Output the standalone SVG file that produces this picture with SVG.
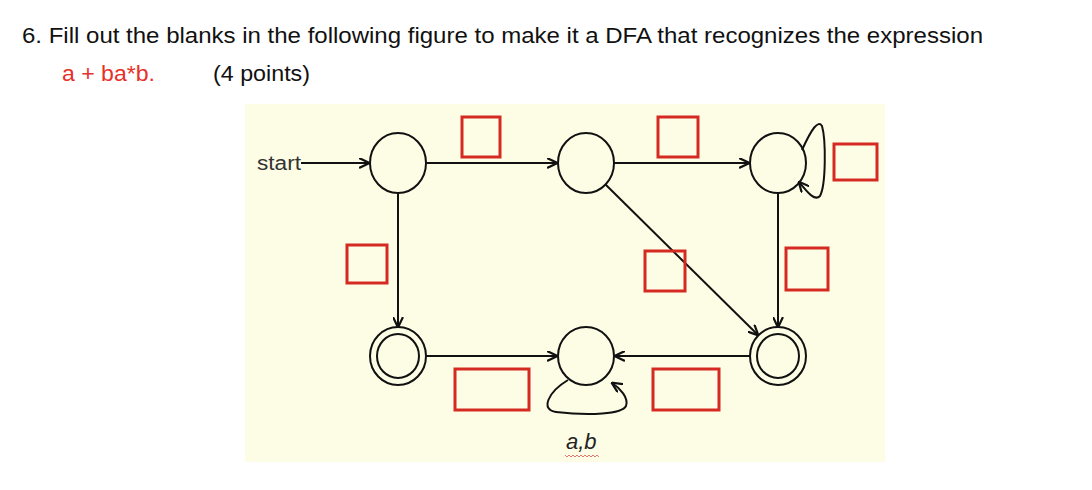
<svg xmlns="http://www.w3.org/2000/svg" width="1092" height="490" viewBox="0 0 1092 490">
<style>
.t{font-family:"Liberation Sans",Arial,sans-serif;font-size:22px;fill:#111}
.n{fill:none;stroke:#111;stroke-width:2}
.e{fill:none;stroke:#111;stroke-width:2;marker-end:url(#ah)}
.b{fill:none;stroke:#d42a22;stroke-width:3}
</style>
<defs><marker id="ah" viewBox="0 0 10 10" refX="9" refY="5" markerWidth="11" markerHeight="11" orient="auto" markerUnits="userSpaceOnUse"><path d="M0,0.5 L9.5,5 L0,9.5" fill="none" stroke="#111" stroke-width="2"/></marker></defs>
<rect width="1092" height="490" fill="#fff"/>
<text class="t" x="22" y="43" textLength="961" lengthAdjust="spacingAndGlyphs">6. Fill out the blanks in the following figure to make it a DFA that recognizes the expression</text>
<text class="t" x="62" y="81" textLength="93" lengthAdjust="spacingAndGlyphs" style="fill:#e8302a">a + ba*b.</text>
<text class="t" x="213" y="81" textLength="97" lengthAdjust="spacingAndGlyphs">(4 points)</text>
<rect x="245" y="104" width="640" height="358" fill="#fdfde6"/>
<text x="257" y="170" textLength="44" lengthAdjust="spacingAndGlyphs" style="font-family:'Liberation Sans',Arial,sans-serif;font-size:20px;fill:#333">start</text>
<g id="connectors">
<line class="e" x1="301" y1="163" x2="369" y2="163"/>
<line class="e" x1="426" y1="163" x2="557" y2="163"/>
<line class="e" x1="614" y1="163" x2="749" y2="163"/>
<line class="e" x1="398" y1="192" x2="398" y2="327"/>
<line class="e" x1="778" y1="192" x2="778" y2="327"/>
<line class="e" x1="605" y1="184" x2="758" y2="335"/>
<line class="e" x1="426" y1="356" x2="557" y2="356"/>
<line class="e" x1="750" y1="356" x2="615" y2="356"/>
<path class="e" d="M802,150 C812,128 818,120 822,126 C826,140 826,185 820,196 C814,202 806,190 799,182"/>
<path class="e" d="M568,380 C548,392 540,410 556,412 C590,416 622,414 626,406 C629,398 620,388 612,383"/>
</g>
<g id="n1"><ellipse class="n" cx="398" cy="163" rx="28" ry="30"/></g>
<g id="n2"><ellipse class="n" cx="586" cy="163" rx="28" ry="30"/></g>
<g id="n3"><ellipse class="n" cx="778" cy="163" rx="28" ry="30"/></g>
<g id="n4"><ellipse class="n" cx="398" cy="356" rx="28" ry="29"/><ellipse class="n" cx="398" cy="356" rx="21" ry="22"/></g>
<g id="n5"><ellipse class="n" cx="586" cy="356" rx="28" ry="29"/></g>
<g id="n6"><ellipse class="n" cx="778" cy="356" rx="28" ry="29"/><ellipse class="n" cx="778" cy="356" rx="21" ry="22"/></g>
<g id="blanks">
<rect class="b" x="462" y="117" width="38" height="40"/>
<rect class="b" x="658" y="117" width="40" height="40"/>
<rect class="b" x="834" y="144" width="43" height="36"/>
<rect class="b" x="347" y="245" width="40" height="38"/>
<rect class="b" x="645" y="251" width="40" height="40"/>
<rect class="b" x="786" y="248" width="42" height="42"/>
<rect class="b" x="455" y="369" width="74" height="41"/>
<rect class="b" x="653" y="369" width="66" height="41"/>
</g>
<text x="566" y="449" style="font-family:'Liberation Sans',Arial,sans-serif;font-size:22px;font-style:italic;fill:#222">a,b</text>
<path d="M565,455 l2,2 l2,-2 l2,2 l2,-2 l2,2 l2,-2 l2,2 l2,-2 l2,2 l2,-2 l2,2 l2,-2 l2,2 l2,-2 l2,2 l2,-2 l2,2" fill="none" stroke="#e05050" stroke-width="0.8"/>
</svg>
